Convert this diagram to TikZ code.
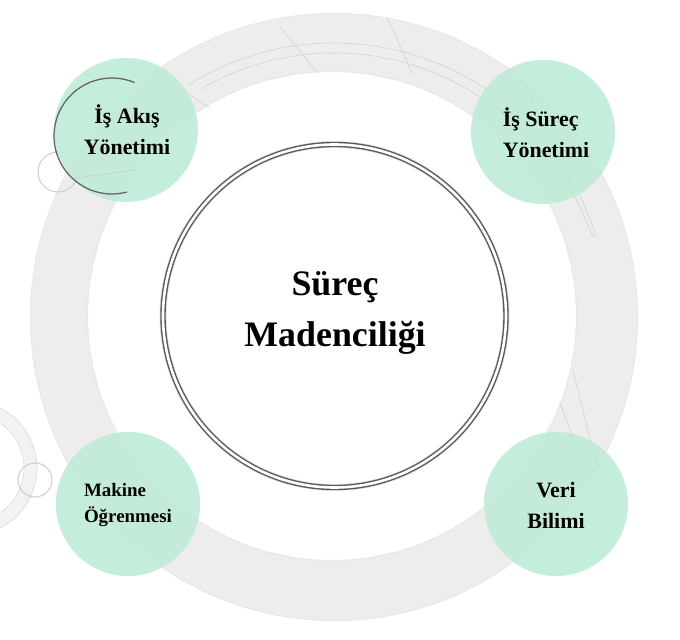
\documentclass[tikz,border=0pt]{standalone}
\usepackage{fontspec}
\setmainfont{Liberation Serif}
\begin{document}
\begin{tikzpicture}[x=1bp,y=-1bp,
  mintcircle/.style={circle, fill=mintbase, fill opacity=0.85, text opacity=1, minimum size=144bp, inner sep=0pt},
  labeltext/.style={font=\bfseries\fontsize{22}{31}\selectfont, text=black},
  smalltext/.style={font=\bfseries\fontsize{19}{26}\selectfont, text=black},
  sketch/.style={draw=black!18, line width=0.6bp},
  faintring/.style={draw=black!20, line width=1bp}
]
\definecolor{mintbase}{HTML}{BCEBD5}
\definecolor{ringgray}{HTML}{EDEDED}
\definecolor{ringedge}{HTML}{E4E4E4}
\useasboundingbox (0,0) rectangle (680,640);
\fill[white] (0,0) rectangle (680,640);

% left partial ring (cut by border)
\begin{scope}
\clip (0,0) rectangle (680,640);
\fill[black!5, even odd rule] (-30,468) circle (67) (-30,468) circle (54);
\draw[black!14, line width=0.6bp] (-30,468) circle (67);
\draw[black!14, line width=0.6bp] (-30,468) circle (54);
\end{scope}
\draw[faintring] (35,480) circle (17);

% big textured ring
\fill[ringgray, even odd rule] (334,317) circle (304) (332,316) circle (244);
\draw[ringedge, line width=0.5bp] (334,317) circle (303.5);
\draw[ringedge, line width=0.5bp] (332,316) circle (244.5);

% faint sketch lines on the ring
\draw[sketch] (334,317) ++(-122:274) arc[start angle=-122, end angle=-17, radius=274];
\draw[sketch] (334,317) ++(-120:264) arc[start angle=-120, end angle=-30, radius=264];
\draw[sketch] (280,27) -- (317,72);
\draw[sketch] (387,17) -- (412,73);
\draw[sketch] (522,77) -- (593,237);
\draw[sketch] (573,370) -- (597,467);
\draw[sketch] (560,403) -- (585,470);
\draw[sketch] (190,95) -- (210,108);

% small decorative circle near top-left
\draw[faintring] (58,172) circle (20);

% green circles
\node[mintcircle] (c1) at (126,130) {};
\node[mintcircle] (c2) at (543,132) {};
\node[mintcircle] (c3) at (128,504) {};
\node[mintcircle] (c4) at (556,504) {};

% dark arc over top-left circle
\draw[black!60, line width=1.3bp] (112,136) ++(-67:58) arc[start angle=-67, end angle=-285, radius=58];
\draw[black!22, line width=0.6bp] (75,178) -- (135,170);

% central circle
\draw[black!10, line width=7bp] (334.5,316) circle (171.5);
\node[circle, draw=black!65, line width=1.4bp, double=white, double distance=2.6bp, minimum size=343bp, inner sep=0pt] (center) at (334.5,316) {};

% texts
\node[font=\bfseries\fontsize{36}{52}\selectfont, align=center] (ct) at (335,313) {Süreç\\Madenciliği};
\node[labeltext, align=center] (t1) at (127,130) {İş Akış\\Yönetimi};
\node[labeltext, align=left] (t2) at (546,133) {İş Süreç\\Yönetimi};
\node[smalltext, align=left] (t3) at (128,505) {Makine\\Öğrenmesi};
\node[labeltext, align=center] (t4) at (556,505) {Veri\\Bilimi};
\end{tikzpicture}
\end{document}
